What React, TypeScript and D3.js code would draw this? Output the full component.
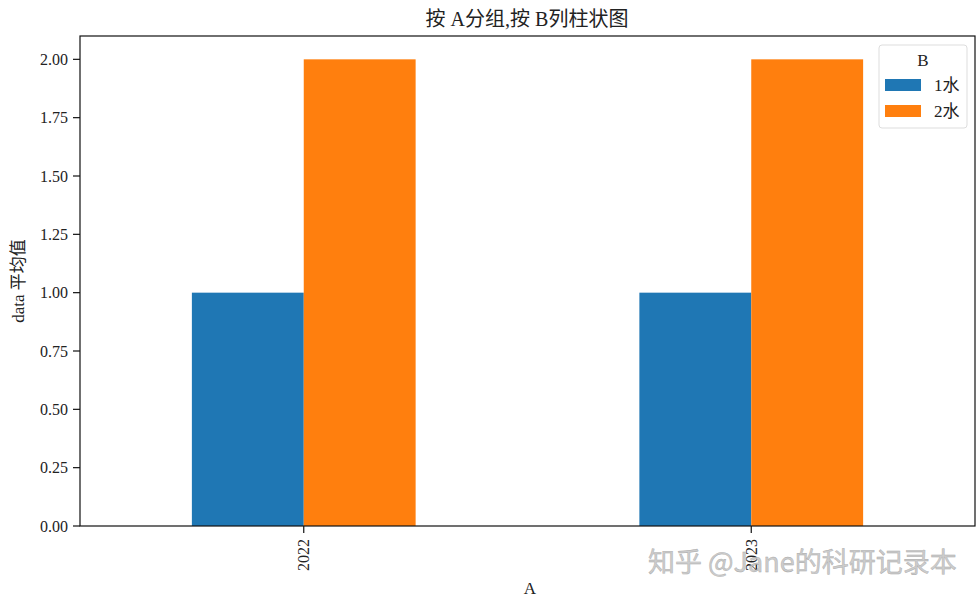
import React from "react";
import * as d3 from "d3";

const categories = ["2022", "2023"];
const seriesNames = ["1水", "2水"];
const values1 = [1, 1];
const values2 = [2, 2];
const yTicks = [0, 0.25, 0.5, 0.75, 1.0, 1.25, 1.5, 1.75, 2.0];
const colors = ["#1f77b4", "#ff7f0e"];

const W = 979;
const H = 601;
const m = { left: 80, right: 975, top: 36, bottom: 526 };
const FONT = "'Liberation Serif', 'Times New Roman', 'Noto Sans CJK SC', serif";

export default function App() {
  const x = d3.scaleLinear().domain([-0.5, 1.5]).range([m.left, m.right]);
  const y = d3.scaleLinear().domain([0, 2.1]).range([m.bottom, m.top]);
  const series = [values1, values2];
  const barW = 0.25;
  return (
    <svg width={W} height={H} style={{ position: "absolute", left: 0, top: 0, background: "#fff" }} fontFamily={FONT}>
      <rect x={0} y={0} width={W} height={H} fill="#fff" />
      <text x={527} y={26} textAnchor="middle" fontSize={20} fill="#222">
        按 A分组,按 B列柱状图
      </text>
      {series.map((vals, si) =>
        vals.map((v, ci) => {
          const x0 = x(ci - 0.25 + si * barW);
          const x1 = x(ci - 0.25 + (si + 1) * barW);
          return (
            <rect key={`${si}-${ci}`} x={x0} y={y(v)} width={x1 - x0} height={y(0) - y(v)} fill={colors[si]} />
          );
        })
      )}
      <rect x={m.left} y={m.top} width={m.right - m.left} height={m.bottom - m.top} fill="none" stroke="#111" strokeWidth={1.2} />
      {yTicks.map((t) => (
        <g key={t}>
          <line x1={m.left - 7} x2={m.left} y1={y(t)} y2={y(t)} stroke="#111" strokeWidth={1.2} />
          <text x={m.left - 12} y={y(t)} dy="0.35em" textAnchor="end" fontSize={16} fill="#222">
            {d3.format(".2f")(t)}
          </text>
        </g>
      ))}
      {categories.map((c, i) => (
        <g key={c}>
          <line x1={x(i)} x2={x(i)} y1={m.bottom} y2={m.bottom + 7} stroke="#111" strokeWidth={1.2} />
          <text
            transform={`translate(${x(i)},${m.bottom + 13}) rotate(-90)`}
            textAnchor="end"
            dy="0.35em"
            fontSize={16}
            fill="#222"
          >
            {c}
          </text>
        </g>
      ))}
      <text x={530} y={594} textAnchor="middle" fontSize={17} fill="#222">A</text>
      <text transform={`translate(24,${(m.top + m.bottom) / 2}) rotate(-90)`} textAnchor="middle" fontSize={17} fill="#222">
        data 平均值
      </text>
      <g>
        <rect x={879} y={45} width={88} height={83} rx={3} fill="#fff" fillOpacity={0.8} stroke="#ddd" strokeWidth={1} />
        <text x={923} y={66} textAnchor="middle" fontSize={17} fill="#222">B</text>
        {seriesNames.map((s, i) => (
          <g key={s}>
            <rect x={885} y={79 + i * 26} width={36} height={12} fill={colors[i]} />
            <text x={934} y={85 + i * 26} dy="0.35em" fontSize={17} fill="#222">{s}</text>
          </g>
        ))}
      </g>
      <text x={648} y={572} fontSize={27} fill="#c4c4c4" stroke="#999" strokeWidth={0.4} fontFamily="'Noto Sans CJK SC', sans-serif" opacity={0.85}>
        知乎 @Jane的科研记录本
      </text>
    </svg>
  );
}
